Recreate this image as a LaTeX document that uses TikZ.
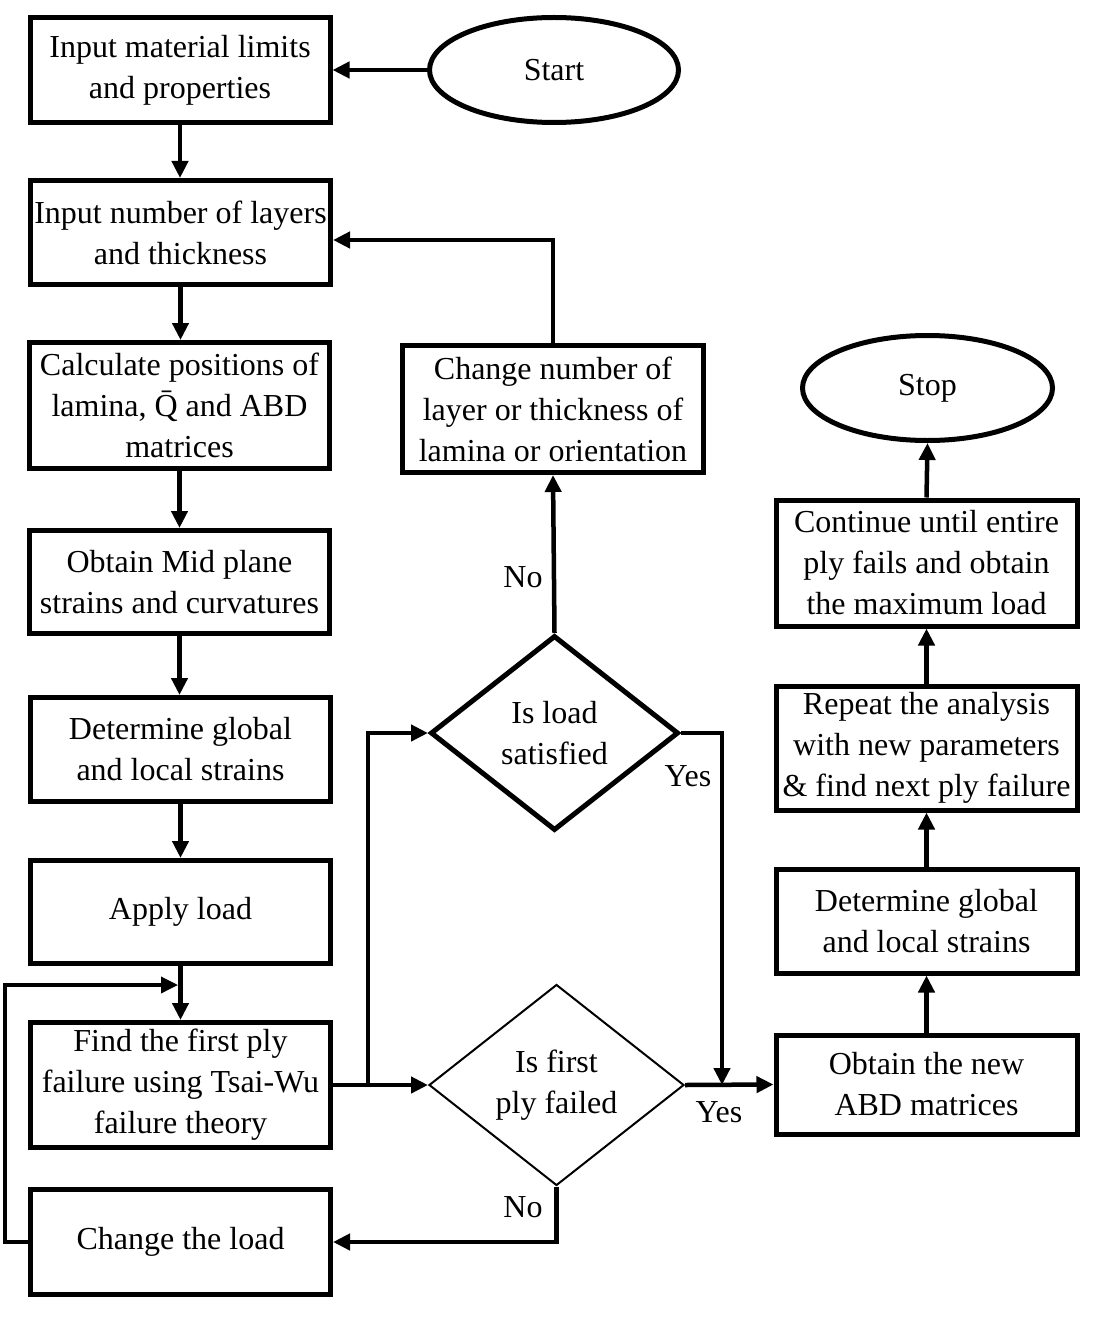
\documentclass[tikz,border=0pt]{standalone}
\usepackage{fontspec}
\setmainfont{Liberation Serif}
\usetikzlibrary{shapes.geometric,arrows.meta,calc}
\newcommand{\fs}{\fontsize{32}{41}\selectfont}
\begin{document}
\begin{tikzpicture}[x=1pt,y=-1pt,
  box/.style={draw, line width=5pt, minimum width=300pt, inner sep=0pt, align=center, font=\fs},
  rbox/.style={box, minimum width=301pt},
  oval/.style={draw, ellipse, line width=5pt, inner sep=0pt, minimum width=249pt, minimum height=105pt, font=\fs},
  dia/.style={draw, diamond, line width=5pt, inner sep=0pt, align=center, font=\fs, minimum width=248pt, minimum height=195pt},
  arr/.style={line width=4.5pt, -{Triangle[length=17pt,width=16pt]}},
  lbl/.style={inner sep=0pt, font=\fs}]
\useasboundingbox (0,0) rectangle (1092,1332);
% left column
\node[box, minimum height=105pt] (b1) at (180,70) {Input material limits\\and properties};
\node[box, minimum height=104pt] (b2) at (180.5,232.5) {Input number of layers\\and thickness};
\node[box, minimum height=126pt] (b3) at (179.5,405.5) {Calculate positions of\\lamina, \=Q and ABD\\matrices};
\node[box, minimum height=103pt] (b4) at (179.5,582) {Obtain Mid plane\\strains and curvatures};
\node[box, minimum height=104pt] (b5) at (180.5,749.5) {Determine global\\and local strains};
\node[box, minimum height=103pt] (b6) at (180.5,912) {Apply load};
\node[box, minimum height=125pt] (b7) at (180.5,1085) {Find the first ply\\failure using Tsai-Wu\\failure theory};
\node[box, minimum height=105pt] (b8) at (180.5,1242) {Change the load};
% middle column
\node[oval] (start) at (554,70) {Start};
\node[box, minimum width=301pt, minimum height=127pt] (chg) at (553,409) {Change number of\\layer or thickness of\\lamina or orientation};
\node[dia] (d1) at (554.5,733) {Is load\\satisfied};
\node[dia, line width=2pt, minimum width=255pt, minimum height=201pt] (d2) at (556.5,1085) {Is first\\ply failed};
% right column
\node[oval, minimum width=250pt] (stop) at (927.5,388) {Stop};
\node[rbox, minimum height=126pt] (r1) at (926.5,563) {Continue until entire\\ply fails and obtain\\the maximum load};
\node[rbox, minimum height=124pt] (r2) at (926.5,748) {Repeat the analysis\\with new parameters\\\& find next ply failure};
\node[rbox, minimum height=104pt] (r3) at (926.5,921) {Determine global\\and local strains};
\node[rbox, minimum height=99pt] (r4) at (926.5,1084.5) {Obtain the new\\ABD matrices};
% coordinates
\coordinate (j) at (180,985);
\coordinate (lc) at (5,1242);
\coordinate (br) at (368,1085);
\coordinate (yj) at (722,1085);
\coordinate (b2in) at ($(b2.east)+(0,7.5)$);
% connectors
\draw[arr] (start.west) -- (b1.east);
\draw[arr] (b1.south) -- (b1.south |- b2.north);
\draw[arr] (b2.south) -- (b2.south |- b3.north);
\draw[arr] (b3.south) -- (b3.south |- b4.north);
\draw[arr] (b4.south) -- (b4.south |- b5.north);
\draw[arr] (b5.south) -- (b5.south |- b6.north);
\draw[arr] (b6.south) -- (b6.south |- b7.north);
\draw[arr, line width=3.5pt, shorten >=2pt] (b8.west) -- (lc) |- (j);
\draw[arr] (b7.east) -- (d2.west);
\draw[arr] (br) |- (d1.west);
\draw[arr] (d1.north) -- (chg.south);
\draw[arr] (chg.north) |- (b2in);
\draw[arr] (d1.east) -| (yj);
\draw[arr] (d2.east) -- (r4.west);
\draw[arr] (d2.south) |- (b8.east);
\draw[arr] (r4.north) -- (r3.south);
\draw[arr] (r3.north) -- (r2.south);
\draw[arr] (r2.north) -- (r1.south);
\draw[arr] (r1.north) -- (stop.south);
% labels
\node[lbl] (no1) at (523,577) {No};
\node[lbl] (yes1) at (688,776) {Yes};
\node[lbl] (yes2) at (719,1112) {Yes};
\node[lbl] (no2) at (523,1207) {No};
\end{tikzpicture}
\end{document}
